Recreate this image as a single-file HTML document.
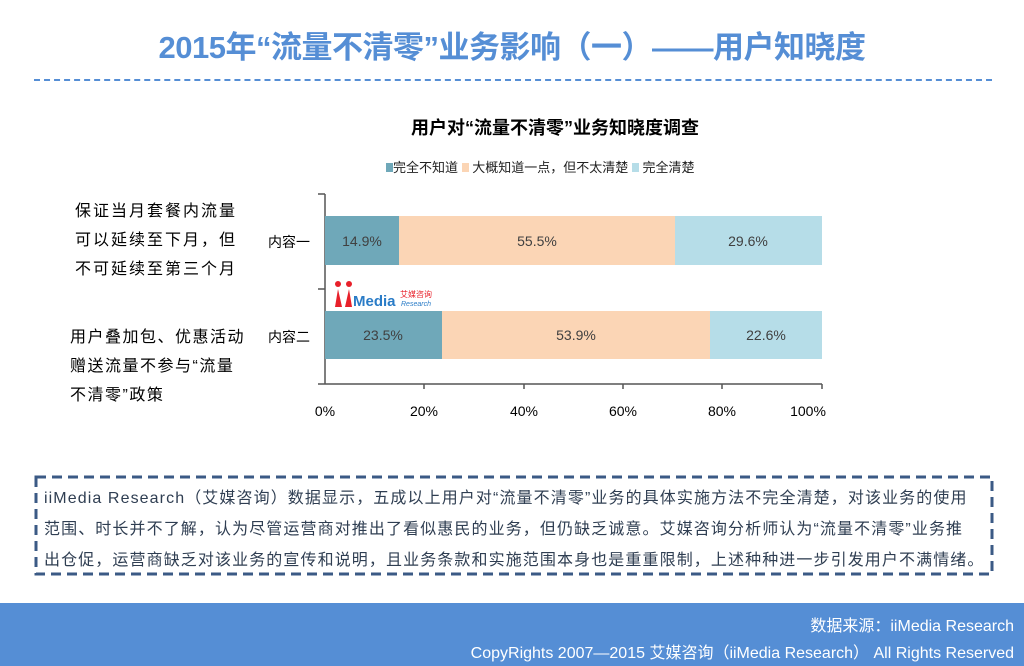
<!DOCTYPE html>
<html><head><meta charset="utf-8"><style>
body{margin:0;width:1024px;height:666px;position:relative;background:#fff;font-family:"Liberation Sans","Noto Sans CJK SC",sans-serif;overflow:hidden}
.a{position:absolute;white-space:nowrap}
</style></head><body>
<div class="a" style="left:0;width:1024px;top:22px;text-align:center;font-size:31px;font-weight:bold;color:#558ed5;letter-spacing:-0.5px">2015年“流量不清零”业务影响（一）——用户知晓度</div>
<div class="a" style="left:34px;width:958px;top:79px;border-top:2px dashed #558ed5"></div>
<div class="a" style="left:0;width:1110px;top:114px;text-align:center;font-size:18px;font-weight:bold;color:#000">用户对“流量不清零”业务知晓度调查</div>
<div class="a" style="left:386px;top:157px;font-size:13px;color:#222">
<span style="display:inline-block;width:7px;height:9px;background:#6fa8b9"></span>完全不知道 <span style="display:inline-block;width:7px;height:9px;background:#fbd5b5"></span> 大概知道一点，但不太清楚 <span style="display:inline-block;width:7px;height:9px;background:#b6dde8"></span> 完全清楚</div>
<div class="a" style="left:75px;top:197px;font-size:16px;line-height:29px;color:#000;letter-spacing:2px">保证当月套餐内流量<br>可以延续至下月，但<br>不可延续至第三个月</div>
<div class="a" style="left:70px;top:323px;font-size:16px;line-height:29px;color:#000;letter-spacing:1.5px">用户叠加包、优惠活动<br>赠送流量不参与“流量<br>不清零”政策</div>
<div class="a" style="left:268px;top:232px;font-size:14px">内容一</div>
<div class="a" style="left:268px;top:327px;font-size:14px">内容二</div>
<svg class="a" style="left:0;top:0" width="1024" height="666">
<g stroke="#555" stroke-width="1.5" fill="none">
<path d="M325 194V384H822M318 194H325M318 289H325M318 384H325M424 384v5M524 384v5M623 384v5M722 384v5M822 384v5"/>
</g>
<rect x="325" y="216" width="74" height="49" fill="#6fa8b9"/>
<rect x="399" y="216" width="276" height="49" fill="#fbd5b5"/>
<rect x="675" y="216" width="147" height="49" fill="#b6dde8"/>
<rect x="325" y="311" width="117" height="48" fill="#6fa8b9"/>
<rect x="442" y="311" width="268" height="48" fill="#fbd5b5"/>
<rect x="710" y="311" width="112" height="48" fill="#b6dde8"/>
<g font-size="14" fill="#404040" text-anchor="middle" font-family="Liberation Sans,sans-serif">
<text x="362" y="246">14.9%</text><text x="537" y="246">55.5%</text><text x="748" y="246">29.6%</text>
<text x="383" y="340">23.5%</text><text x="576" y="340">53.9%</text><text x="766" y="340">22.6%</text>
</g>
<g font-size="14" fill="#000" text-anchor="middle" font-family="Liberation Sans,sans-serif">
<text x="325" y="416">0%</text><text x="424" y="416">20%</text><text x="524" y="416">40%</text><text x="623" y="416">60%</text><text x="722" y="416">80%</text><text x="808" y="416">100%</text>
</g>
<circle cx="338" cy="284" r="3" fill="#e8202a"/><circle cx="349" cy="284" r="3" fill="#e8202a"/>
<path d="M335 307L338 289L342 307ZM345 307L349 289L352 307Z" fill="#e8202a"/>
<text x="353" y="306" font-size="15" font-weight="bold" fill="#2a7cc7" font-family="Liberation Sans,sans-serif">Media</text>
<text x="400" y="297" font-size="8" fill="#e8202a" font-family="Noto Sans CJK SC,sans-serif">艾媒咨询</text>
<text x="401" y="306" font-size="7" font-style="italic" fill="#2a7cc7" font-family="Liberation Sans,sans-serif">Research</text>
<rect x="36" y="477" width="956" height="97" fill="none" stroke="#3b5a85" stroke-width="3" stroke-dasharray="10 6"/>
<rect x="0" y="603" width="1024" height="63" fill="#558ed5"/>
</svg>
<div class="a" style="left:44px;top:483px;font-size:16px;line-height:31px;color:#2f3e52;letter-spacing:1.1px">iiMedia  Research（艾媒咨询）数据显示，五成以上用户对“流量不清零”业务的具体实施方法不完全清楚，对该业务的使用<br>范围、时长并不了解，认为尽管运营商对推出了看似惠民的业务，但仍缺乏诚意。艾媒咨询分析师认为“流量不清零”业务推<br>出仓促，运营商缺乏对该业务的宣传和说明，且业务条款和实施范围本身也是重重限制，上述种种进一步引发用户不满情绪。</div>
<div class="a" style="right:10px;top:612px;font-size:16px;color:#fff">数据来源：iiMedia Research</div>
<div class="a" style="right:10px;top:639px;font-size:16px;color:#fff">CopyRights 2007—2015 艾媒咨询（iiMedia Research） All Rights Reserved</div>
</body></html>
